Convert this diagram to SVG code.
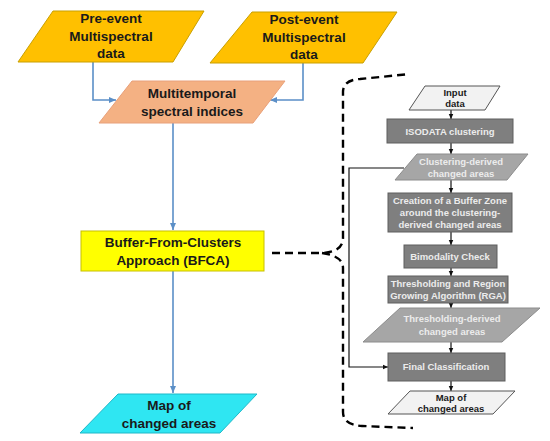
<svg xmlns="http://www.w3.org/2000/svg" width="550" height="441" viewBox="0 0 550 441">
<defs>
<marker id="ab" markerWidth="8" markerHeight="8" refX="7" refY="4" orient="auto" markerUnits="userSpaceOnUse"><path d="M0,1 L7,4 L0,7 z" fill="#5b8fc7"/></marker>
<marker id="ak" markerWidth="6" markerHeight="6" refX="5.5" refY="3" orient="auto" markerUnits="userSpaceOnUse"><path d="M0,0.5 L5.5,3 L0,5.5 z" fill="#111"/></marker>
<style>
text{font-family:"Liberation Sans",Arial,sans-serif;font-weight:bold;text-anchor:middle}
.big{font-size:13.5px;fill:#1a1a1a}
.sm{font-size:9.5px}
.lt{fill:#ececec}
.dk{fill:#1a1a1a}
.blue{fill:none;stroke:#5b8fc7;stroke-width:1.6}
.blk{fill:none;stroke:#111;stroke-width:1.2}
.dash{fill:none;stroke:#000;stroke-width:2.4;stroke-dasharray:8,5}
.gold{fill:#ffc000;stroke:#c9a000;stroke-width:1}
.box{fill:#7f7f7f;stroke:#5e5e5e;stroke-width:1}
.pg{fill:#a6a6a6;stroke:#8c8c8c;stroke-width:1}
</style>
</defs>
<rect width="550" height="441" fill="#fff"/>
<g id="connectors">
<polyline class="blue" points="93,62 93,100 116,100" marker-end="url(#ab)"/>
<polyline class="blue" points="303,63 303,100 270,100" marker-end="url(#ab)"/>
<line class="blue" x1="173" y1="123" x2="173" y2="230" marker-end="url(#ab)"/>
<line class="blue" x1="173" y1="271" x2="173" y2="393" marker-end="url(#ab)"/>
<path class="dash" d="M272,253 L322,253 Q343,252 343,238 L343,92 Q343,80 360,79 L410,74"/>
<path class="dash" d="M322,253 Q343,256 343,268 L343,412 Q343,425 362,426 L413,428"/>
<line class="blk" x1="451" y1="110" x2="451" y2="119" marker-end="url(#ak)"/>
<line class="blk" x1="451" y1="143" x2="451" y2="154" marker-end="url(#ak)"/>
<line class="blk" x1="451" y1="180" x2="451" y2="193" marker-end="url(#ak)"/>
<line class="blk" x1="451" y1="232" x2="451" y2="245" marker-end="url(#ak)"/>
<line class="blk" x1="451" y1="268" x2="451" y2="276" marker-end="url(#ak)"/>
<line class="blk" x1="451" y1="303" x2="451" y2="308" marker-end="url(#ak)"/>
<line class="blk" x1="451" y1="342" x2="451" y2="353" marker-end="url(#ak)"/>
<line class="blk" x1="451" y1="381" x2="451" y2="391" marker-end="url(#ak)"/>
<polyline class="blk" points="404,168 349,168 349,367 388,367" marker-end="url(#ak)"/>
</g>
<g id="pre-event">
<polygon class="gold" points="53,11 204,11 173,62 18,62"/>
<text class="big" x="111" y="23">Pre-event</text>
<text class="big" x="111" y="41">Multispectral</text>
<text class="big" x="111" y="58">data</text>
</g>
<g id="post-event">
<polygon class="gold" points="252,12 397,12 363,63 210,63"/>
<text class="big" x="304" y="24">Post-event</text>
<text class="big" x="304" y="42">Multispectral</text>
<text class="big" x="304" y="59">data</text>
</g>
<g id="multitemporal">
<polygon points="132,81 285,81 253,123 99,123" fill="#f4b183" stroke="#e8a07a"/>
<text class="big" x="192" y="98">Multitemporal</text>
<text class="big" x="192" y="116">spectral indices</text>
</g>
<g id="bfca">
<rect x="81" y="231" width="183" height="40" fill="#ffff00" stroke="#c8bf00"/>
<text class="big" x="173" y="247">Buffer-From-Clusters</text>
<text class="big" x="173" y="265">Approach (BFCA)</text>
</g>
<g id="map-main">
<polygon points="118,394 257,394 220,433 80,433" fill="#2fe6f2" stroke="#1fb8c8"/>
<text class="big" x="169" y="410">Map of</text>
<text class="big" x="169" y="428">changed areas</text>
</g>
<g id="input-data">
<polygon points="425,86 500,86 485,110 409,110" fill="#f2f2f2" stroke="#555"/>
<text class="sm dk" x="455" y="96">Input</text>
<text class="sm dk" x="455" y="107">data</text>
</g>
<g id="isodata">
<rect class="box" x="387" y="119" width="126" height="24"/>
<text class="sm lt" x="450" y="135">ISODATA clustering</text>
</g>
<g id="clustering-derived">
<polygon class="pg" points="417,154 528,154 507,180 395,180"/>
<text class="sm lt" x="461" y="165">Clustering-derived</text>
<text class="sm lt" x="461" y="177">changed areas</text>
</g>
<g id="buffer-zone">
<rect class="box" x="388" y="193" width="124" height="39"/>
<text class="sm lt" x="450" y="204">Creation of a Buffer Zone</text>
<text class="sm lt" x="450" y="216">around the clustering-</text>
<text class="sm lt" x="450" y="228">derived changed areas</text>
</g>
<g id="bimodality">
<rect class="box" x="404" y="245" width="93" height="23"/>
<text class="sm lt" x="450" y="260">Bimodality Check</text>
</g>
<g id="rga">
<rect class="box" x="388" y="276" width="120" height="27"/>
<text class="sm lt" x="448" y="287">Thresholding and Region</text>
<text class="sm lt" x="448" y="299">Growing Algorithm (RGA)</text>
</g>
<g id="thresholding-derived">
<polygon class="pg" points="400,308 540,308 502,342 363,342"/>
<text class="sm lt" x="452" y="322">Thresholding-derived</text>
<text class="sm lt" x="452" y="335">changed areas</text>
</g>
<g id="final-classification">
<rect class="box" x="388" y="353" width="117" height="28"/>
<text class="sm lt" x="446" y="370">Final Classification</text>
</g>
<g id="map-small">
<polygon points="410,391 515,391 493,414 388,414" fill="#f2f2f2" stroke="#555"/>
<text class="sm dk" x="451" y="401">Map of</text>
<text class="sm dk" x="451" y="412">changed areas</text>
</g>
</svg>
